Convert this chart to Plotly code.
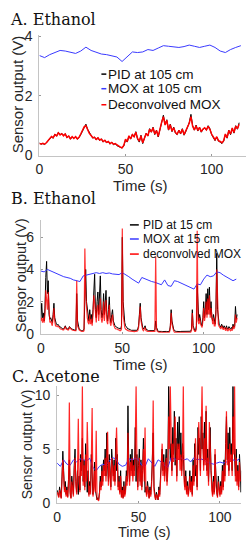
import plotly.graph_objects as go

W, H = 248, 550

# ---------------- Panel A data (Ethanol, 105 cm) ----------------
a_dt = 1.0
a_pid = [0.42,0.38,0.40,0.37,0.42,0.48,0.55,0.62,0.58,0.72,0.65,0.78,0.70,0.74,0.68,0.73,0.60,0.66,0.55,0.62,
         0.58,0.64,0.55,0.60,0.70,0.82,0.95,1.05,0.88,0.75,0.68,0.58,0.62,0.52,0.60,0.50,0.56,0.45,0.52,0.42,
         0.48,0.38,0.45,0.36,0.40,0.33,0.30,0.27,0.25,0.32,0.52,0.45,0.65,0.55,0.72,0.62,0.80,0.55,0.45,0.68,
         0.40,0.58,0.75,0.65,0.90,0.78,0.95,0.70,0.85,0.62,0.90,1.10,1.35,1.05,1.20,0.85,1.05,0.80,0.95,0.75,
         0.70,0.85,0.72,0.90,0.68,0.80,0.95,1.10,1.38,1.00,0.85,1.02,0.82,0.95,0.78,0.88,0.92,0.85,1.00,0.90,
         0.70,0.58,0.50,0.62,0.48,0.45,0.40,0.48,0.70,0.58,0.85,0.70,0.90,0.75,1.00,0.88,1.10]
a_deconv = [0.40,0.39,0.41,0.38,0.43,0.50,0.58,0.64,0.60,0.70,0.66,0.76,0.69,0.73,0.66,0.72,0.61,0.65,0.56,0.63,
            0.57,0.63,0.56,0.61,0.72,0.84,0.96,1.00,0.85,0.74,0.67,0.60,0.61,0.54,0.59,0.52,0.55,0.47,0.51,0.44,
            0.47,0.40,0.44,0.38,0.40,0.35,0.31,0.28,0.26,0.34,0.55,0.47,0.66,0.56,0.70,0.63,0.78,0.57,0.48,0.66,
            0.43,0.60,0.74,0.66,0.88,0.79,0.93,0.72,0.84,0.64,0.92,1.12,1.30,1.02,1.18,0.86,1.03,0.82,0.93,0.77,
            0.72,0.84,0.74,0.88,0.70,0.82,0.96,1.08,1.30,0.98,0.86,1.00,0.84,0.94,0.80,0.89,0.93,0.86,0.98,0.88,
            0.72,0.60,0.53,0.63,0.50,0.47,0.43,0.50,0.72,0.60,0.84,0.72,0.92,0.77,0.98,0.90,1.05]
a_mox_dt = 3.0
a_mox = [3.35,3.28,3.38,3.45,3.52,3.50,3.45,3.42,3.50,3.63,3.52,3.45,3.40,3.38,3.35,3.30,3.15,3.30,3.47,3.45,
         3.47,3.55,3.52,3.60,3.68,3.66,3.64,3.62,3.65,3.70,3.66,3.62,3.66,3.70,3.62,3.50,3.45,3.55,3.62,3.68]

# ---------------- Panel B data (Ethanol, 15 cm) ----------------
b_dt = 0.5
b_pid = [0.9,1.9,1.0,1.3,0.8,1.6,3.5,4.5,2.5,3.3, 1.2,0.9,1.0,0.8,0.7,1.2,1.9,1.0,0.7,0.6,
         0.55,0.6,0.5,0.45,0.4,0.35,0.35,0.3,0.3,0.45, 0.5,0.35,0.3,0.3,0.3,0.45,0.4,0.3,0.3,0.28,
         0.25,0.25,0.22,0.22,2.5,0.8,0.4,0.3,0.25,0.2, 0.2,0.2,0.2,0.3,2.5,4.0,2.0,1.5,1.0,0.8,
         1.5,0.9,1.2,0.7,1.5,2.8,3.7,1.5,1.0,2.0, 2.6,1.2,2.5,3.6,1.5,1.0,1.3,2.5,1.2,2.0,
         2.7,1.2,0.8,1.5,2.3,1.0,0.7,1.2,1.5,0.8, 0.6,0.5,0.45,0.4,0.4,0.35,0.35,0.3,0.3,0.5,
         6.0,2.0,1.0,0.7,0.5,0.4,0.35,0.3,0.3,0.25, 0.25,0.22,0.22,0.2,0.2,0.2,0.2,0.2,0.22,0.3,
         0.5,1.2,1.9,1.0,0.5,0.4,0.3,0.45,0.5,0.3, 0.25,0.2,0.2,0.2,0.2,0.2,0.2,0.2,0.22,0.2,
         0.25,0.8,0.4,0.2,0.15,0.15,0.16,0.15,0.15,0.14, 0.15,0.15,0.14,0.15,0.15,0.14,0.15,0.15,0.16,0.5,
         1.5,0.8,0.4,0.3,0.2,0.16,0.15,0.15,0.14,0.15, 0.15,0.14,0.15,0.15,0.14,0.15,0.15,0.15,0.14,0.15,
         0.15,0.14,0.15,0.15,0.16,0.3,1.5,0.5,0.3,0.2, 0.2,0.5,3.0,1.0,0.8,1.2,0.8,0.6,0.5,1.0,
         2.0,1.0,1.5,2.5,1.2,2.8,1.5,2.9,1.2,2.0, 1.0,0.8,1.2,0.7,0.6,1.5,5.0,1.5,0.8,0.6,
         0.5,0.4,0.6,0.4,0.35,0.5,0.35,0.3,0.5,0.3, 0.3,0.45,0.35,0.3,0.4,0.3,0.6,0.4,0.5,1.7,
         0.9,1.2]
b_deconv = [0.8,1.0,0.7,1.0,0.7,1.2,2.7,2.0,1.5,2.6, 0.9,0.7,0.8,0.6,0.5,1.0,1.6,0.8,0.5,0.5,
            0.45,0.5,0.4,0.35,0.3,0.3,0.25,0.25,0.25,0.4, 0.45,0.3,0.25,0.25,0.25,0.4,0.35,0.25,0.25,0.22,
            0.2,0.2,0.2,0.2,3.3,0.5,0.3,0.25,0.2,0.15, 0.15,0.15,0.15,0.2,5.3,2.5,1.2,1.0,0.7,0.6,
            1.2,0.6,0.9,0.5,1.2,2.4,2.0,0.9,0.7,1.6, 1.8,0.8,2.0,2.2,1.0,0.7,1.0,2.0,0.8,1.6,
            2.1,0.8,0.6,1.2,1.8,0.7,0.5,0.9,1.2,0.6, 0.4,0.35,0.3,0.3,0.3,0.25,0.25,0.2,0.2,0.3,
            6.55,1.2,0.6,0.4,0.3,0.25,0.2,0.2,0.18,0.17, 0.16,0.15,0.15,0.15,0.15,0.14,0.15,0.15,0.16,0.2,
            0.4,1.0,1.7,0.8,0.3,0.25,0.2,0.35,0.4,0.2, 0.16,0.15,0.15,0.15,0.14,0.15,0.15,0.15,0.15,0.15,
            0.15,4.8,0.3,0.15,0.1,0.1,0.11,0.1,0.1,0.1, 0.1,0.1,0.1,0.11,0.1,0.1,0.1,0.1,0.11,0.4,
            1.3,0.6,0.3,0.2,0.1,0.1,0.1,0.1,0.1,0.1, 0.1,0.1,0.1,0.1,0.1,0.1,0.1,0.1,0.1,0.1,
            0.1,0.1,0.1,0.1,0.1,0.2,1.3,0.35,0.2,0.15, 0.15,0.3,6.4,0.8,0.6,1.0,0.6,0.45,0.4,0.8,
            1.6,0.8,1.2,2.0,1.0,2.2,1.2,2.4,1.0,1.6, 0.8,0.6,1.0,0.5,0.5,1.2,4.0,1.0,0.6,0.45,
            0.4,0.3,0.5,0.3,0.25,0.4,0.25,0.2,0.4,0.2, 0.2,0.35,0.25,0.2,0.3,0.2,0.5,0.3,0.4,1.2,
            0.7,1.0]
b_mox_dt = 2.0
b_mox = [3.9,3.85,4.0,3.9,3.8,3.7,3.6,3.55,3.5,3.45,3.35,3.3,3.25,3.6,3.65,3.7,3.72,3.8,3.75,3.8,
         3.75,3.78,3.72,3.7,3.68,3.8,3.7,3.55,3.4,3.25,3.15,3.5,3.4,3.3,3.25,3.2,3.1,3.05,3.35,3.0,
         2.95,3.3,3.25,3.15,3.05,2.95,2.85,2.78,3.1,3.05,3.4,3.65,3.55,3.6,3.85,3.8,3.65,3.55,3.45,3.3,
         3.4]

# ---------------- Panel C data (Acetone) ----------------
c_dt = 0.5
c_pid = [1.2,0.8,0.6,1.5,0.9,0.5,2.5,4.8,3.0,1.2, 2.0,0.8,1.5,0.6,2.2,4.0,1.0,0.5,2.5,1.8,
         0.8,3.5,5.0,2.0,1.0,3.0,0.8,2.5,1.2,4.5, 3.0,6.0,2.0,4.0,1.5,5.5,2.5,1.0,3.0,0.8,
         2.0,1.0,4.5,2.5,0.8,1.5,3.8,1.2,0.6,0.3, 0.5,0.3,1.0,2.5,1.5,3.5,2.0,4.0,3.0,5.0,
         2.5,6.5,3.5,2.0,4.5,3.0,1.5,5.0,3.5,2.5, 4.0,2.0,6.0,3.0,4.5,1.5,2.5,1.0,3.0,0.6,
         1.5,0.5,2.0,0.8,1.2,3.0,2.0,9.0,3.5,2.0, 4.5,3.0,5.0,2.5,4.0,3.0,7.0,2.0,4.5,1.5,
         3.5,5.0,2.0,4.0,1.5,3.0,6.0,2.5,1.0,1.5, 0.8,2.0,1.0,0.5,1.5,0.8,2.0,4.0,6.5,1.5,
         0.8,0.3,1.0,0.5,0.3,1.5,0.8,2.5,4.5,5.0, 3.0,4.5,2.5,3.5,5.0,2.0,3.5,10.8,6.0,4.0,
         5.5,3.0,7.0,4.5,8.5,3.5,6.0,2.5,7.5,5.0, 8.0,4.0,6.5,3.0,5.5,4.5,2.5,1.5,3.0,1.0,
         2.0,0.8,1.5,3.0,1.2,2.5,0.8,4.0,2.0,5.5, 2.5,3.5,1.5,7.0,4.5,6.0,3.0,8.0,5.0,6.5,
         3.5,7.5,4.0,8.5,3.0,5.0,2.0,6.5,7.0,3.0, 1.5,0.8,2.5,1.0,4.5,2.0,1.0,0.6,2.5,1.5,
         0.8,2.0,1.0,3.5,1.5,4.0,2.5,5.5,8.0,4.0, 6.5,3.0,7.0,4.5,5.5,3.0,10.8,6.0,4.0,2.5,
         5.0,2.0,3.5,1.5,4.5,2.5,1.0,3.0,2.0,1.2, 2.5,1.5,3.0,1.0,2.0,1.5]
c_deconv = [1.0,0.6,0.5,1.2,0.8,0.4,2.0,4.0,2.5,1.0, 1.5,0.6,1.2,0.5,1.8,9.3,0.8,0.4,2.0,1.5,
            0.6,3.0,4.2,1.6,0.8,2.5,7.8,2.0,1.0,3.8, 2.5,10.8,1.6,3.5,1.2,4.5,2.0,7.5,2.5,0.6,
            1.6,0.8,3.8,8.8,0.6,1.2,3.0,1.0,6.7,0.3, 0.4,0.2,0.8,2.0,1.2,3.0,1.6,3.5,2.5,4.2,
            2.0,5.0,6.6,1.6,3.8,2.5,1.2,4.2,3.0,2.0, 3.5,1.6,4.5,7.0,3.8,1.2,2.0,0.8,2.5,0.5,
            1.2,0.4,1.6,0.6,1.0,2.5,1.6,6.5,3.0,1.6, 3.8,2.5,4.2,2.0,3.5,2.5,5.5,10.8,3.8,1.2,
            3.0,4.2,1.6,3.5,1.2,2.5,5.0,2.0,7.0,1.2, 0.6,1.6,0.8,0.4,1.2,0.6,1.6,3.5,9.5,1.2,
            0.6,0.3,0.8,0.4,0.3,1.2,0.6,2.0,3.8,5.5, 2.5,3.8,2.0,3.0,4.2,1.6,3.0,8.0,5.0,10.8,
            4.5,2.5,5.5,3.8,6.5,8.0,5.0,2.0,5.5,4.0, 5.5,3.0,4.5,2.5,4.0,10.8,2.0,1.2,2.5,0.8,
            1.6,0.6,1.2,2.5,1.0,2.0,0.6,3.5,1.6,4.5, 6.0,3.0,1.2,5.5,7.5,5.0,2.5,6.5,10.8,5.5,
            3.0,6.0,3.5,9.0,2.5,4.2,1.6,7.5,5.5,2.5, 1.2,0.6,2.0,0.8,5.0,1.6,0.8,0.5,2.0,1.2,
            0.6,1.6,0.8,3.0,1.2,3.5,2.0,4.5,8.5,3.5, 5.0,2.5,5.5,3.8,4.5,2.5,8.0,4.5,10.8,2.0,
            4.2,1.6,3.0,1.2,3.8,2.0]
c_mox_dt = 2.0
c_mox = [3.7,3.4,4.0,3.6,3.5,4.0,3.8,4.1,4.0,3.9,4.15,3.3,3.0,3.4,3.6,3.5,3.9,4.2,4.1,3.6,
         3.4,3.5,4.1,4.0,4.15,4.0,3.5,3.4,4.1,3.7,3.4,4.0,3.8,3.5,3.3,4.2,4.1,4.0,4.2,4.0,
         4.1,3.8,4.2,4.0,4.1,4.0,3.8,3.7,3.6,3.7,3.8,3.7,3.8,4.1,4.0,3.9,4.1]

# ---------------- text ----------------
titles = ["A. Ethanol", "B. Ethanol", "C. Acetone"]
legend_a = ["PID at 105 cm", "MOX at 105 cm", "Deconvolved MOX"]
legend_b = ["PID at 15 cm", "MOX at 15 cm", "deconvolved MOX"]
x_ticks = [0, 50, 100]
ya_ticks = [0, 2, 4]
yb_ticks = [0, 2, 4, 6]
yc_ticks = [0, 5, 10]

BLACK = "#000000"
BLUE = "#3a3aff"
RED = "#ff0000"

def px(x):
    return x / W

def py(y):
    return 1 - y / H

fig = go.Figure()

# Panel A
fig.add_trace(go.Scatter(y=a_pid, x0=0, dx=a_dt, mode="lines", line=dict(color=BLACK, width=1), xaxis="x", yaxis="y"))
fig.add_trace(go.Scatter(y=a_mox, x0=0, dx=a_mox_dt, mode="lines", line=dict(color=BLUE, width=1), xaxis="x", yaxis="y"))
fig.add_trace(go.Scatter(y=a_deconv, x0=0, dx=a_dt, mode="lines", line=dict(color=RED, width=1.5), xaxis="x", yaxis="y"))
# Panel B
fig.add_trace(go.Scatter(y=b_pid, x0=0, dx=b_dt, mode="lines", line=dict(color=BLACK, width=1), xaxis="x2", yaxis="y2"))
fig.add_trace(go.Scatter(y=b_mox, x0=0, dx=b_mox_dt, mode="lines", line=dict(color=BLUE, width=1), xaxis="x2", yaxis="y2"))
fig.add_trace(go.Scatter(y=b_deconv, x0=0, dx=b_dt, mode="lines", line=dict(color=RED, width=1.2), opacity=0.8, xaxis="x2", yaxis="y2"))
# Panel C
fig.add_trace(go.Scatter(y=c_pid, x0=0, dx=c_dt, mode="lines", line=dict(color=BLACK, width=1), xaxis="x3", yaxis="y3"))
fig.add_trace(go.Scatter(y=c_mox, x0=0, dx=c_mox_dt, mode="lines", line=dict(color=BLUE, width=1), xaxis="x3", yaxis="y3"))
fig.add_trace(go.Scatter(y=c_deconv, x0=0, dx=c_dt, mode="lines", line=dict(color=RED, width=1.2), opacity=0.85, xaxis="x3", yaxis="y3"))

TICKFONT = dict(family="Liberation Sans, Arial, sans-serif", size=14, color="#262626")
AXCOL = "#c4c4c4"

def xax(l, r, rng, anchor):
    return dict(domain=[px(l), px(r)], range=rng, anchor=anchor, tickvals=x_ticks, showgrid=False,
                zeroline=False, showline=True, linecolor=AXCOL, linewidth=1, ticks="inside", ticklen=2,
                tickcolor="#999999", tickfont=TICKFONT, ticklabelstandoff=1)

def yax(bot, top, rng, anchor, tv):
    return dict(domain=[py(bot), py(top)], range=rng, anchor=anchor, tickvals=tv, showgrid=False,
                zeroline=False, showline=True, linecolor=AXCOL, linewidth=1, ticks="inside", ticklen=2,
                tickcolor="#999999", tickfont=TICKFONT, ticklabelstandoff=3)

fig.update_layout(
    width=W, height=H, margin=dict(l=0, r=0, t=0, b=0),
    paper_bgcolor="white", plot_bgcolor="white", showlegend=False,
    xaxis=xax(36, 246, [0, 120], "y"),
    yaxis=yax(152.7, 28.4, [0, 4.05], "x", ya_ticks),
    xaxis2=xax(37.5, 239.4, [0, 122], "y2"),
    yaxis2=yax(336, 218.5, [0, 7.1], "x2", yb_ticks),
    xaxis3=xax(54, 241, [0, 113], "y3"),
    yaxis3=yax(510, 390, [0, 10.8], "x3", yc_ticks),
)

ann = []
SERIF = "DejaVu Serif, serif"
SANS = "Liberation Sans, Arial, sans-serif"
for t, (x, y) in zip(titles, [(4, 13), (5, 197), (6, 380)]):
    ann.append(dict(text=t, x=px(x), y=py(y), xref="paper", yref="paper", xanchor="left", yanchor="middle",
                    showarrow=False, font=dict(family=SERIF, size=16, color="#111111")))
for (x, y, s) in [(14, 90, 15), (18, 276, 14.5), (23, 450, 14)]:
    ann.append(dict(text="Sensor output (V)", x=px(x), y=py(y), xref="paper", yref="paper", textangle=-90,
                    xanchor="center", yanchor="middle", showarrow=False, font=dict(family=SANS, size=s, color="#262626")))
for (x, y, s) in [(138, 184, 15), (138, 368, 15), (143, 540, 14.5)]:
    ann.append(dict(text="Time (s)", x=px(x), y=py(y), xref="paper", yref="paper",
                    xanchor="center", yanchor="middle", showarrow=False, font=dict(family=SANS, size=s, color="#262626")))

shapes = []
# legend A
for txt, col, y in zip(legend_a, [BLACK, BLUE, RED], [69, 84, 100.5]):
    ann.append(dict(text=txt, x=px(104), y=py(y), xref="paper", yref="paper", xanchor="left", yanchor="middle",
                    showarrow=False, font=dict(family=SANS, size=13.5, color="#111111")))
    shapes.append(dict(type="line", xref="paper", yref="paper", x0=px(99), x1=px(104), y0=py(y), y1=py(y),
                       line=dict(color=col, width=1.5)))
# legend B
for txt, col, y in zip(legend_b, [BLACK, BLUE, RED], [224, 238.5, 254]):
    ann.append(dict(text=txt, x=px(139), y=py(y), xref="paper", yref="paper", xanchor="left", yanchor="middle",
                    showarrow=False, font=dict(family=SANS, size=12, color="#111111")))
    shapes.append(dict(type="line", xref="paper", yref="paper", x0=px(128), x1=px(137), y0=py(y), y1=py(y),
                       line=dict(color=col, width=1.5)))

fig.update_layout(annotations=ann, shapes=shapes)
fig.write_html("out.html", config={"displayModeBar": False},
               post_script="document.body.style.margin='0';document.body.style.padding='0';")
